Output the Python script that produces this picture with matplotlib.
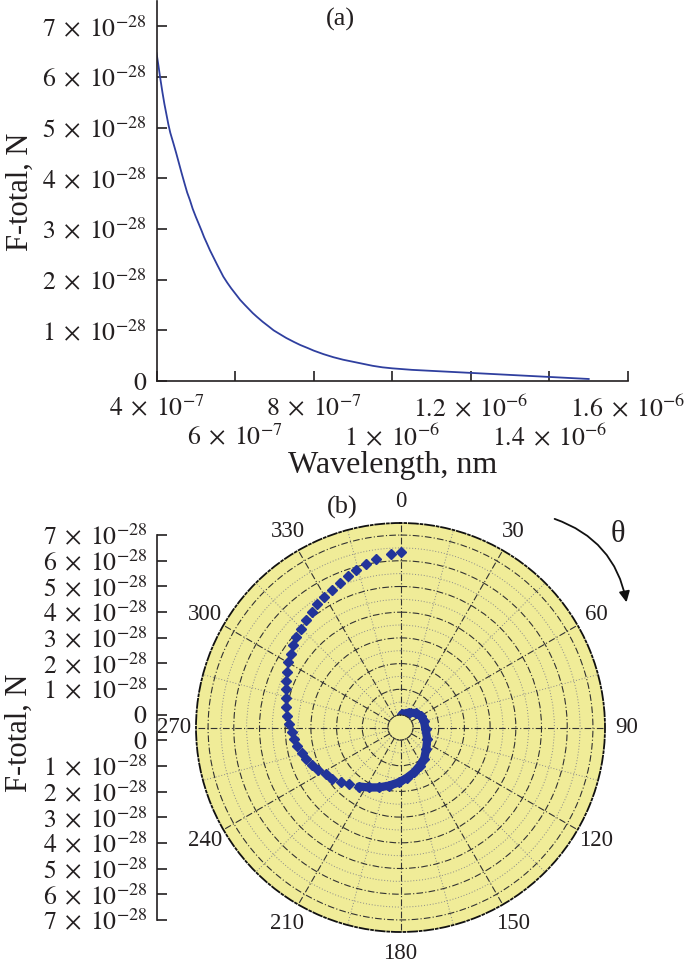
import numpy as np
import matplotlib
matplotlib.use("Agg")
import matplotlib.pyplot as plt
from matplotlib.patches import FancyArrowPatch, Circle

plt.rcParams['font.family'] = ['Liberation Serif', 'DejaVu Serif']
plt.rcParams['mathtext.fontset'] = 'stix'

TXT = '#231f20'
LINE_BLUE = '#2f3f9f'
DOT_BLUE = '#22349a'
YELLOW = '#f0ec98'

# (a) force vs wavelength (wavelength in 1e-7 m, force in 1e-28 N)
wavelength = [4.00, 4.05, 4.09, 4.15, 4.20, 4.25, 4.30, 4.35, 4.43, 4.50, 4.57,
              4.64, 4.72, 4.78, 4.85, 4.92, 5.00, 5.07, 5.15, 5.21, 5.28, 5.36,
              5.45, 5.54, 5.62, 5.70, 5.80, 5.90, 6.00, 6.13, 6.25, 6.35, 6.45,
              6.55, 6.70, 6.85, 6.98, 7.15, 7.30, 7.50, 7.66, 7.85, 8.00, 8.25,
              8.50, 8.75, 9.00, 9.25, 9.50, 9.75, 10.0, 10.5, 11.0, 11.5, 12.0,
              12.5, 13.0, 13.5, 14.0, 14.5, 15.0]
force = [6.47, 6.22, 6.00, 5.70, 5.47, 5.27, 5.07, 4.90, 4.69, 4.50, 4.30,
         4.10, 3.88, 3.72, 3.57, 3.40, 3.24, 3.11, 2.96, 2.84, 2.72, 2.58,
         2.44, 2.30, 2.18, 2.06, 1.94, 1.83, 1.73, 1.60, 1.50, 1.42, 1.34,
         1.27, 1.17, 1.08, 1.00, 0.92, 0.85, 0.77, 0.71, 0.65, 0.60, 0.53,
         0.47, 0.42, 0.38, 0.34, 0.30, 0.27, 0.25, 0.22, 0.20, 0.18, 0.16,
         0.14, 0.12, 0.10, 0.08, 0.06, 0.04]

x_major = [4e-7, 8e-7, 1.2e-6, 1.6e-6]
x_major_labels = [r'$4\;\times\;10^{-7}$', r'$8\;\times\;10^{-7}$',
                  r'$1.2\;\times\;10^{-6}$', r'$1.6\;\times\;10^{-6}$']
x_minor = [6e-7, 1e-6, 1.4e-6]
x_minor_labels = [r'$6\;\times\;10^{-7}$', r'$1\;\times\;10^{-6}$', r'$1.4\;\times\;10^{-6}$']
y_ticks = [0, 1, 2, 3, 4, 5, 6, 7]

# (b) polar spiral: angle in degrees (clockwise from top), radius in 1e-28 N
spiral_theta = [0, -3.2, -8.4, -12, -15.7, -19.1, -22.8, -26.5, -30.4, -34, -37.7,
                -41.3, -45.2, -49, -52.4, -56.3, -59.9, -63.7, -67.8, -71.5, -75.8,
                -79.7, -84.1, -88.3, -92.3, -96.3, -100, -104.6, -108.6, -113.1,
                -117.2, -122, -126.8, -132.2, -137.8, -144.9, -152.3, -160.3,
                -168.8, -178.4, -187.7, -196.7, -206.6, -216.6, -230, -246.4,
                -266.1, -286, -300, -313.3, -330.5, -352.3]
spiral_r = [6.36, 6.27, 6.13, 6.01, 5.87, 5.76, 5.61, 5.50, 5.39, 5.30, 5.17,
            5.07, 4.98, 4.91, 4.79, 4.65, 4.56, 4.43, 4.32, 4.22, 4.12, 4.03,
            3.94, 3.85, 3.75, 3.68, 3.59, 3.49, 3.38, 3.25, 3.11, 2.95, 2.83,
            2.66, 2.49, 2.32, 2.15, 1.99, 1.82, 1.65, 1.48, 1.34, 1.18, 1.05,
            0.82, 0.65, 0.49, 0.46, 0.42, 0.33, 0.18, 0.04]
theta_labels = ['0', '30', '60', '90', '120', '150', '180', '210', '240', '270', '300', '330']
radial_values = [7, 6, 5, 4, 3, 2, 1, 0, 0, 1, 2, 3, 4, 5, 6, 7]


def sci(v):
    if v == 0:
        return r'$0$'
    return r'$%d\;\times\;10^{-28}$' % v


fig = plt.figure(figsize=(6.85, 9.68), dpi=100)

# ---- (a) ----
ax1 = fig.add_axes([0.2285, 0.6064, 0.6883, 0.3926])
ax1.plot(np.array(wavelength) * 1e-7, np.array(force) * 1e-28, color=LINE_BLUE, lw=1.3)
ax1.set_xlim(4e-7, 1.6e-6)
ax1.set_ylim(0, 7.5e-28)
ax1.spines['top'].set_visible(False)
ax1.spines['right'].set_visible(False)
for s in ('left', 'bottom'):
    ax1.spines[s].set_linewidth(1.2)
    ax1.spines[s].set_color(TXT)
ax1.set_xticks(x_major, labels=x_major_labels)
ax1.set_xticks(x_minor, labels=x_minor_labels, minor=True)
ax1.set_yticks(np.array(y_ticks) * 1e-28, labels=[sci(v) for v in y_ticks])
ax1.tick_params(axis='both', which='both', direction='in', length=7, width=1.2,
                colors=TXT, labelsize=18.5)
ax1.tick_params(axis='x', which='major', pad=10)
ax1.tick_params(axis='x', which='minor', pad=31)
ax1.tick_params(axis='y', pad=7)
fig.text(393 / 685, 1 - 466 / 968, 'Wavelength, nm', ha='center', va='center',
         fontsize=23, color=TXT)
fig.text(20 / 685, 1 - 192 / 968, 'F-total, N', rotation=90, ha='center', va='center',
         fontsize=22, color=TXT)
fig.text(340 / 685, 1 - 19 / 968, '(a)', ha='center', va='center', fontsize=19, color=TXT)

# ---- (b) ----
ax2 = fig.add_axes([196 / 685, 36 / 968, 409 / 685, 409 / 968], projection='polar')
ax2.set_facecolor('none')
ax2.add_patch(Circle((0.5, 0.5), 0.5, transform=ax2.transAxes, facecolor=YELLOW,
                     edgecolor='none', clip_on=False, zorder=-5))
ax2.set_theta_zero_location('N')
ax2.set_theta_direction(-1)
ax2.set_ylim(0, 7.47e-28)
ax2.set_rorigin(-0.486e-28)
ax2.set_yticks(np.arange(0, 8) * 1e-28)
ax2.set_yticks(np.arange(0.5, 7.5, 1) * 1e-28, minor=True)
ax2.set_yticklabels([])
ax2.set_yticklabels([], minor=True)
ax2.set_xticks(np.deg2rad(np.arange(0, 360, 30)), labels=theta_labels)
ax2.set_xticks(np.deg2rad(np.arange(15, 360, 30)), minor=True)
ax2.tick_params(axis='x', which='both', length=0, pad=8.5, labelsize=16.5, colors=TXT)
ax2.tick_params(axis='y', which='both', length=0)
ax2.xaxis.grid(True, which='major', color='#333333', lw=0.8, ls=(0, (6, 2, 1, 2)))
ax2.xaxis.grid(True, which='minor', color='#8a8a8a', lw=0.7, ls=(0, (1, 2)))
ax2.yaxis.grid(True, which='major', color='#333333', lw=0.8, ls=(0, (6, 2, 1, 2)))
ax2.yaxis.grid(True, which='minor', color='#8a8a8a', lw=0.7, ls=(0, (1, 2)))
ax2.spines['polar'].set_linestyle((0, (5, 1.5, 1, 1.5)))
ax2.spines['polar'].set_linewidth(1.3)
ax2.spines['polar'].set_color('#111111')
ax2.spines['inner'].set_linestyle((0, (3, 1.5, 1, 1.5)))
ax2.spines['inner'].set_linewidth(0.8)
ax2.spines['inner'].set_color('#333333')

th = np.deg2rad(spiral_theta)
rr = np.array(spiral_r) * 1e-28
ax2.plot(th, rr, ls='none', marker='D', ms=5, color=DOT_BLUE, mec=DOT_BLUE)
dense = 35
ax2.plot(th[dense:], rr[dense:], color=DOT_BLUE, lw=6, solid_capstyle='round')

# radial scale drawn on the left
ax3 = fig.add_axes([157 / 685, 1 - 920 / 968, 0.001, 385 / 968])
ax3.patch.set_visible(False)
for s in ('top', 'right', 'bottom'):
    ax3.spines[s].set_visible(False)
ax3.spines['left'].set_linewidth(1.2)
ax3.spines['left'].set_color(TXT)
ax3.set_xticks([])
ax3.set_ylim(0, len(radial_values) - 1)
ax3.set_yticks(range(len(radial_values)), labels=[sci(v) for v in radial_values])
ax3.tick_params(axis='y', direction='in', length=7, width=1.2, colors=TXT,
                labelsize=18.5, pad=7)
fig.text(19 / 685, 1 - 733 / 968, 'F-total, N', rotation=90, ha='center', va='center',
         fontsize=22, color=TXT)
fig.text(342 / 685, 1 - 507 / 968, '(b)', ha='center', va='center', fontsize=19, color=TXT)

arrow = FancyArrowPatch((552 / 685, 1 - 518 / 968), (627 / 685, 1 - 605 / 968),
                        transform=fig.transFigure, connectionstyle='arc3,rad=-0.3',
                        arrowstyle='-|>', mutation_scale=16, color='#111111', lw=1.3)
fig.patches.append(arrow)
fig.text(618 / 685, 1 - 535 / 968, 'θ', ha='center', va='center', fontsize=22, color=TXT)

fig.savefig('out.png', dpi=100)
